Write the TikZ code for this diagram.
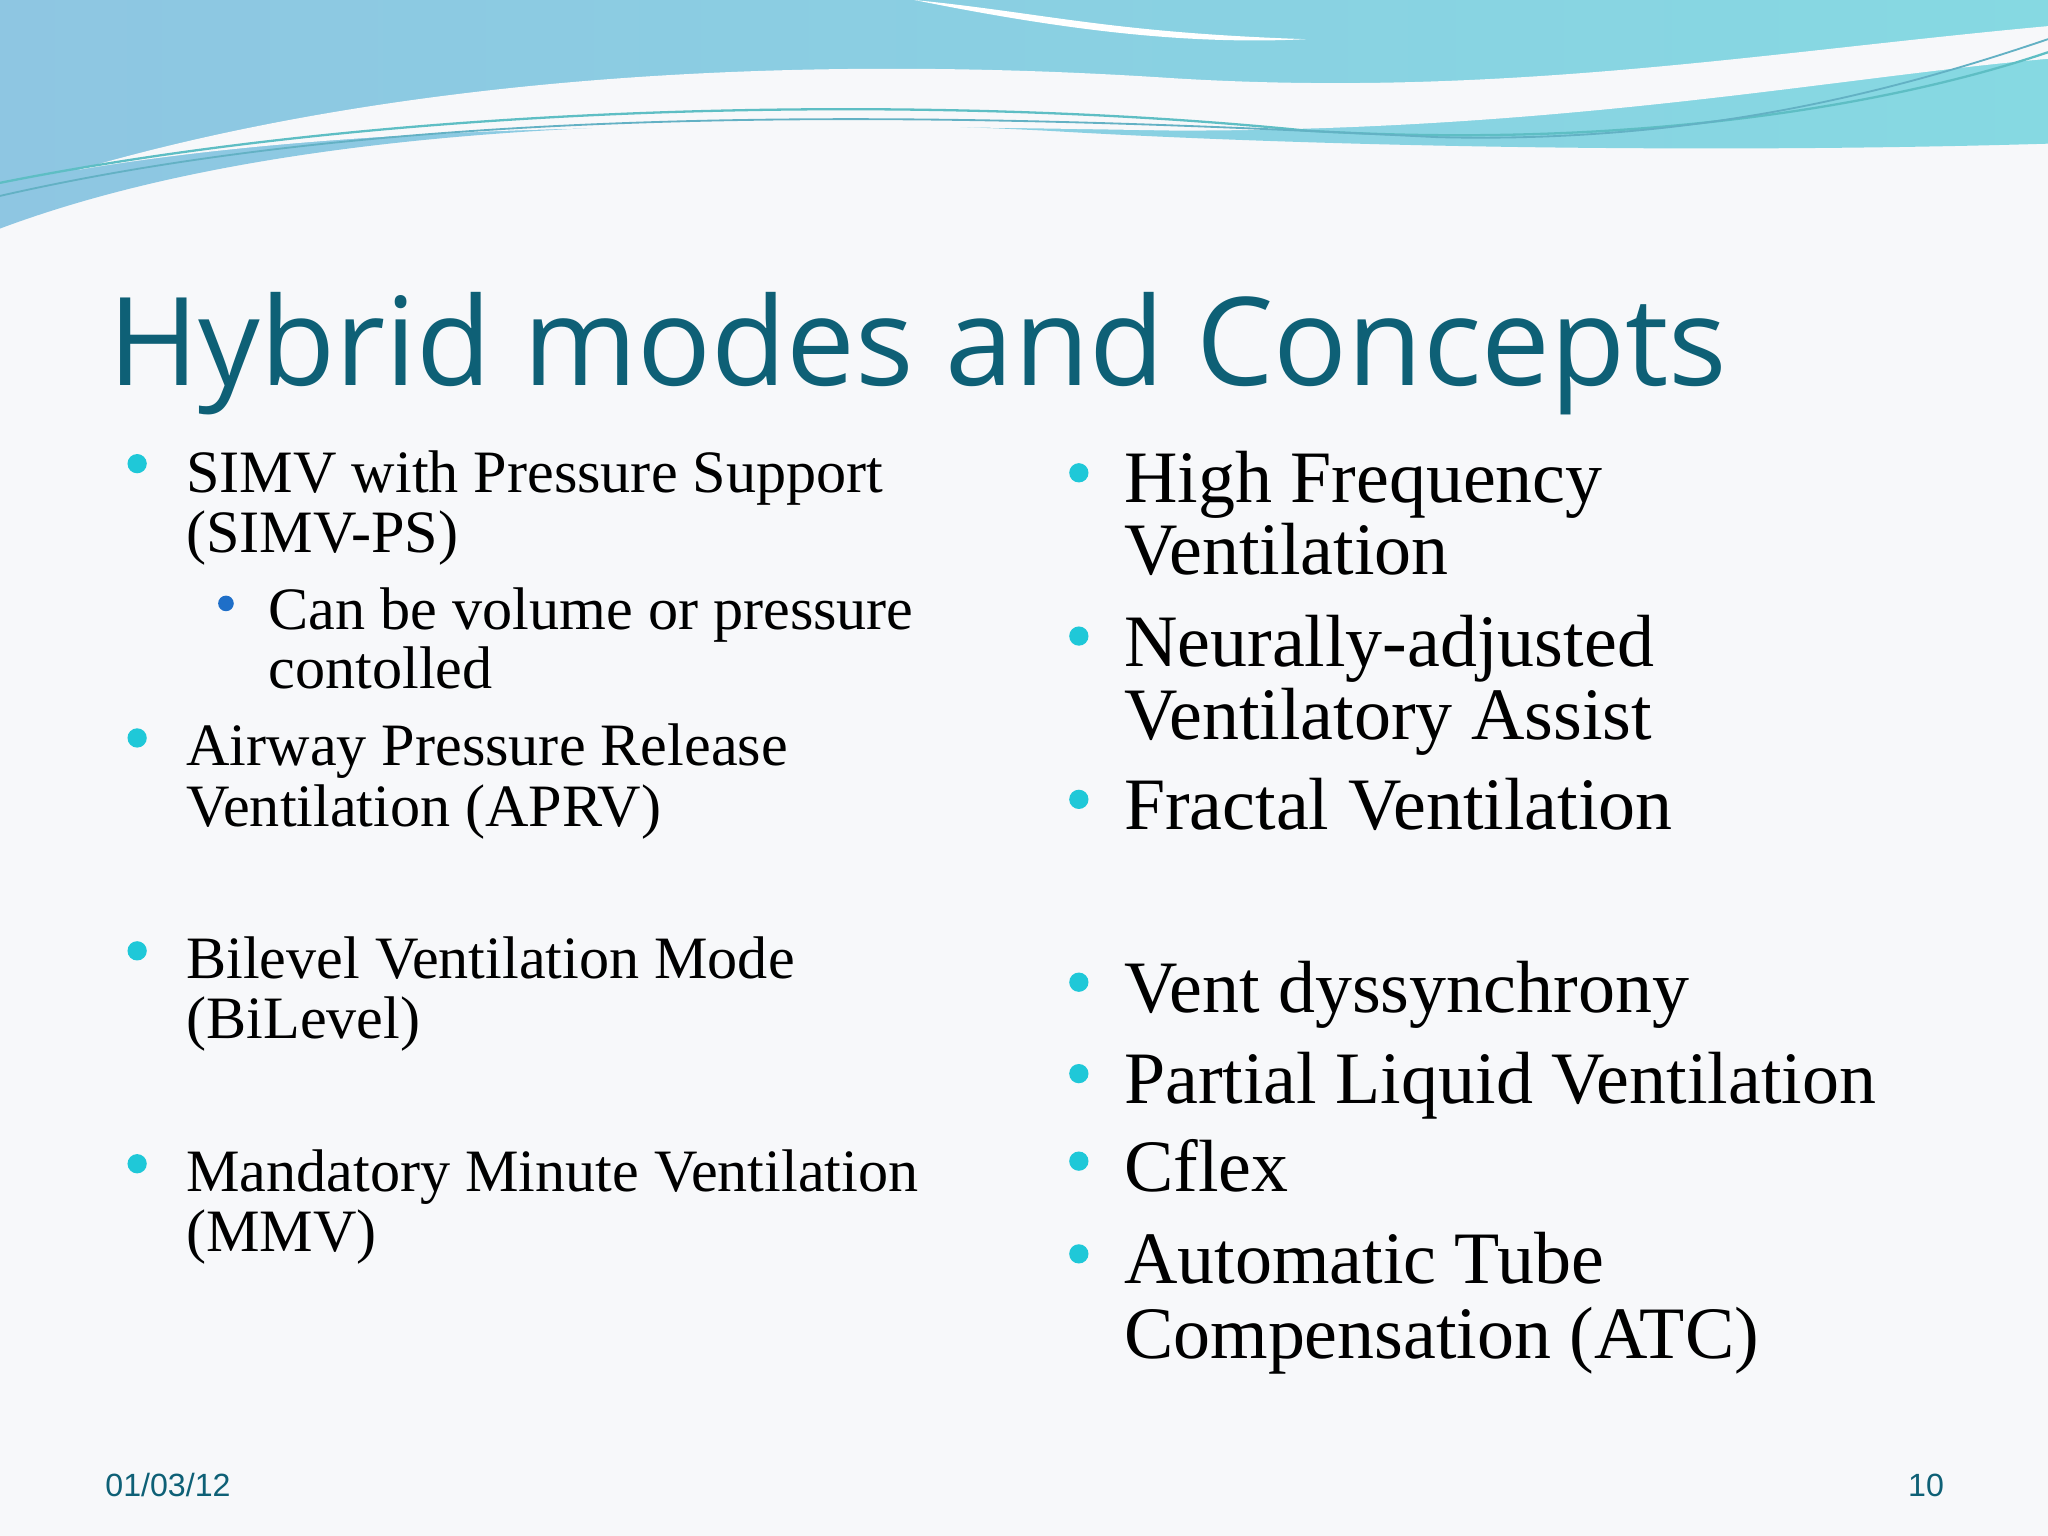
\documentclass[tikz,border=0pt]{standalone}
\usepackage{fontspec}
\setmainfont{Liberation Serif}
\newfontfamily\titlefont{Open Sans}
\newfontfamily\footfont{Liberation Sans}
\definecolor{titlec}{HTML}{0E6076}
\definecolor{bulc}{HTML}{1FC8D8}
\definecolor{subc}{HTML}{1F6FC8}
\definecolor{wave1}{HTML}{8EC6E2}
\definecolor{wave2}{HTML}{86D9E2}
\definecolor{bg}{HTML}{F7F8FA}
\begin{document}
\begin{tikzpicture}[x=0.01cm,y=-0.01cm,
  lt/.style={anchor=base west,inner sep=0,font=\fontsize{13.1pt}{13pt}\selectfont},
  rt/.style={anchor=base west,inner sep=0,font=\fontsize{16.1pt}{16pt}\selectfont},
  bul/.style={circle,fill=bulc,inner sep=0,minimum size=4.2pt},
  sbul/.style={circle,fill=subc,inner sep=0,minimum size=3.4pt}]
\fill[bg] (0,0) rectangle (1568,1176);
\useasboundingbox (0,0) rectangle (1568,1176);
% header waves
\shade[left color=wave1,right color=wave2] (0,0) -- (1568,0) -- (1568,110)
  .. controls (1300,118) and (1000,112) .. (800,100)
  .. controls (500,85) and (200,100) .. (0,175) -- cycle;
\fill[bg] (60,130) .. controls (300,60) and (600,40) .. (900,60)
  .. controls (1150,75) and (1350,40) .. (1568,20) -- (1568,45)
  .. controls (1400,60) and (1200,100) .. (900,100)
  .. controls (600,95) and (300,90) .. (60,130) -- cycle;
\fill[white] (700,0) .. controls (800,10) and (850,25) .. (1000,30)
  .. controls (900,35) and (800,20) .. (700,0) -- cycle;
\draw[wave2!70!teal,line width=0.5pt] (0,140) .. controls (300,80) and (700,70) .. (1000,100) .. controls (1250,115) and (1450,80) .. (1568,40);
\draw[wave1!70!teal,line width=0.4pt] (0,150) .. controls (350,70) and (800,90) .. (1100,105) .. controls (1300,110) and (1450,70) .. (1568,30);
% title
\node[anchor=base west,inner sep=0,text=titlec,font=\titlefont\fontsize{26.7pt}{27pt}\selectfont] (title) at (82,295) {Hybrid modes and Concepts};
% left column
\node[bul] (b1) at (105,355) {};
\node[lt] (l1) at (142,377) {SIMV with Pressure Support};
\node[lt] (l2) at (142,423) {(SIMV-PS)};
\node[sbul] (s1) at (173,462) {};
\node[lt] (l3) at (205,482) {Can be volume or pressure};
\node[lt] (l4) at (205,527) {contolled};
\node[bul] (b2) at (105,565) {};
\node[lt] (l5) at (142,586) {Airway Pressure Release};
\node[lt] (l6) at (142,633) {Ventilation (APRV)};
\node[bul] (b3) at (105,728) {};
\node[lt] (l7) at (142,749) {Bilevel Ventilation Mode};
\node[lt] (l8) at (142,795) {(BiLevel)};
\node[bul] (b4) at (105,891) {};
\node[lt] (l9) at (142,912) {Mandatory Minute Ventilation};
\node[lt] (l10) at (142,958) {(MMV)};
% right column
\node[bul] (r1b) at (826,362) {};
\node[rt] (r1) at (860,385) {High Frequency};
\node[rt] (r2) at (860,440) {Ventilation};
\node[bul] (r2b) at (826,487) {};
\node[rt] (r3) at (860,510) {Neurally-adjusted};
\node[rt] (r4) at (860,566) {Ventilatory Assist};
\node[bul] (r3b) at (826,612) {};
\node[rt] (r5) at (860,635) {Fractal Ventilation};
\node[bul] (r4b) at (826,752) {};
\node[rt] (r6) at (860,775) {Vent dyssynchrony};
\node[bul] (r5b) at (826,822) {};
\node[rt] (r7) at (860,845) {Partial Liquid Ventilation};
\node[bul] (r6b) at (826,889) {};
\node[rt] (r8) at (860,912) {Cflex};
\node[bul] (r7b) at (826,960) {};
\node[rt] (r9) at (860,983) {Automatic Tube};
\node[rt] (r10) at (860,1040) {Compensation (ATC)};
% footer
\node[anchor=base west,inner sep=0,text=titlec,font=\footfont\fontsize{7pt}{7pt}\selectfont] (date) at (80,1146) {01/03/12};
\node[anchor=base east,inner sep=0,text=titlec,font=\footfont\fontsize{7pt}{7pt}\selectfont] (page) at (1489,1146) {10};
\end{tikzpicture}
\end{document}
